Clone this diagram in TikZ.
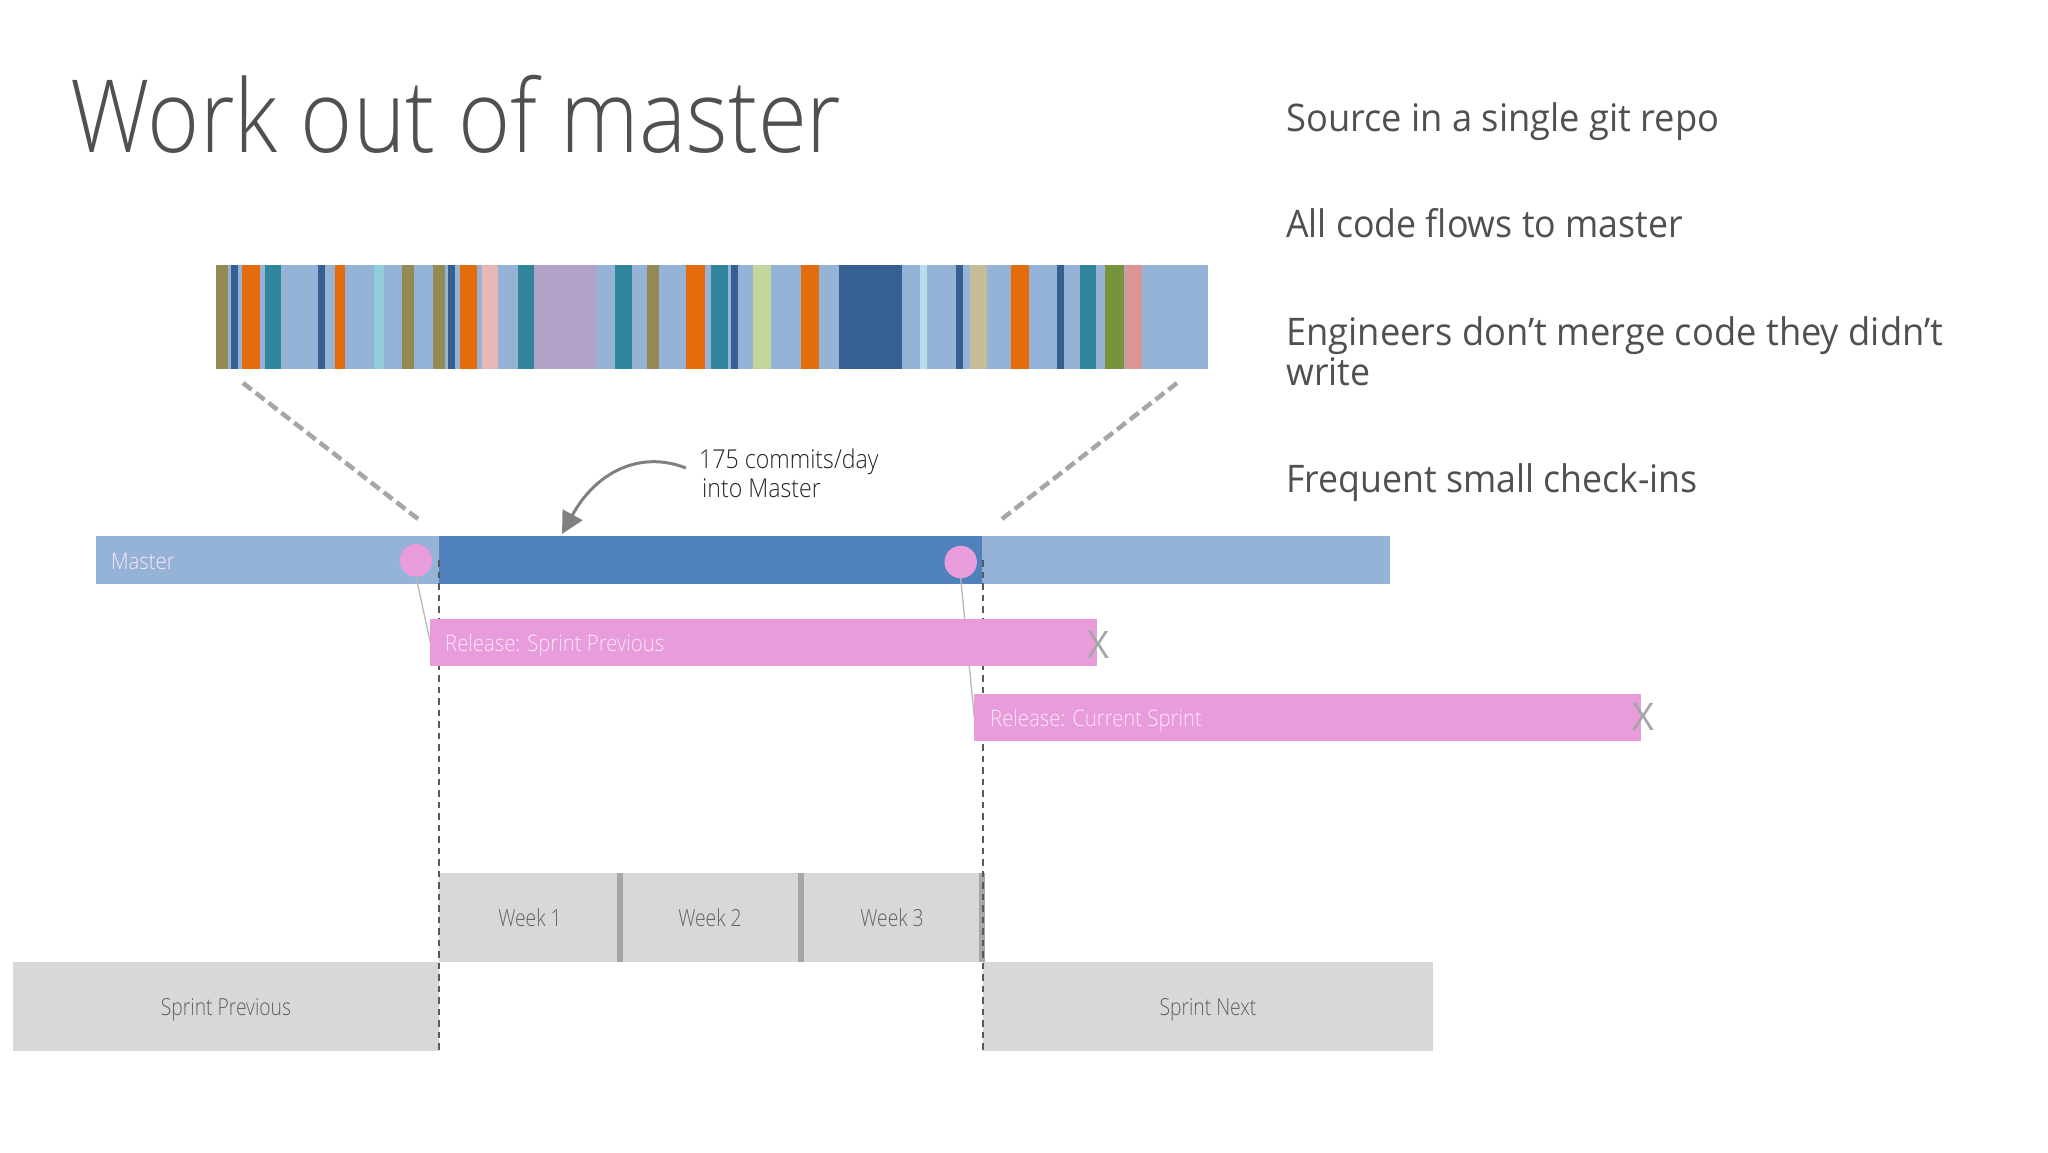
\documentclass[tikz,border=0pt]{standalone}
\usepackage{fontspec}
\usetikzlibrary{arrows.meta}
\setmainfont[FakeStretch=0.955]{Open Sans}
\newfontfamily\tightfont[FakeStretch=0.94]{Open Sans}
\newfontfamily\crossfont{Open Sans}
\newfontfamily\titlefont[FakeStretch=0.882]{Open Sans Light}
\newfontfamily\lightfont[FakeStretch=0.89]{Open Sans Light}
\newfontfamily\boxfont[FakeStretch=0.82]{Open Sans Light}
\definecolor{cBase}{HTML}{95B3D7}
\definecolor{cDark}{HTML}{4F81BD}
\definecolor{cPink}{HTML}{E99CDC}
\definecolor{cOlive}{HTML}{948A54}
\definecolor{cNavy}{HTML}{366092}
\definecolor{cOrange}{HTML}{E46C0A}
\definecolor{cTeal}{HTML}{31859C}
\definecolor{cSky}{HTML}{92CDDC}
\definecolor{cBlush}{HTML}{E6B9B8}
\definecolor{cPurple}{HTML}{B3A2C7}
\definecolor{cLime}{HTML}{C3D69B}
\definecolor{cPale}{HTML}{B7DEE8}
\definecolor{cTan}{HTML}{C4BD97}
\definecolor{cGreen}{HTML}{77933C}
\definecolor{cRose}{HTML}{D99694}
\definecolor{cGrey}{HTML}{D9D7DA}
\definecolor{cSep}{HTML}{A6A6A6}
\definecolor{cText}{HTML}{505050}
\definecolor{cSoft}{HTML}{FBE6F7}
\tikzset{
  flat/.style={inner sep=0pt,outer sep=0pt,anchor=north west,draw=none},
  masterbar/.style={flat,fill=cBase,minimum height=47.5pt},
  activebar/.style={flat,fill=cDark,minimum height=47.5pt},
  releasebar/.style={flat,fill=cPink,minimum height=47pt},
  weekbox/.style={flat,fill=cGrey,minimum height=89pt},
  sprintbox/.style={flat,fill=cGrey,minimum height=89pt},
  sepbar/.style={flat,fill=cSep,minimum width=6pt,minimum height=89pt},
  pin/.style={circle,fill=cPink,minimum size=32.5pt,inner sep=0pt,outer sep=0pt},
  pinline/.style={draw=cGrey!85!black,line width=1.3pt},
  guide/.style={draw=cSep,line width=4.5pt,dash pattern=on 11pt off 5.2pt},
  bound/.style={draw=black!65,line width=1.8pt,dash pattern=on 6.5pt off 5pt},
  bigtext/.style={inner sep=0pt,anchor=base west,text=cText,font=\fontsize{38}{38}\selectfont},
  smalllabel/.style={inner sep=0pt,anchor=base west,text=cSoft,font=\lightfont\fontsize{22.8}{22.8}\selectfont},
  boxlabel/.style={inner sep=0pt,anchor=base,text=black!62,font=\boxfont\fontsize{23.5}{23.5}\selectfont},
  cross/.style={inner sep=0pt,text=cSep,font=\crossfont\fontsize{38}{38}\selectfont},
  note/.style={inner sep=0pt,anchor=base west,text=black!85,font=\lightfont\fontsize{26}{26}\selectfont},
}
\begin{document}
\begin{tikzpicture}[x=1pt,y=-1pt]
\useasboundingbox (0,0) rectangle (2048,1152);
\fill[white] (0,0) rectangle (2048,1152);

\node[inner sep=0pt,anchor=base west,text=cText,font=\titlefont\fontsize{101}{101}\selectfont] (title) at (70,152) {Work out of master};

\node[bigtext] (b1) at (1286,131) {Source in a single git repo};
\node[bigtext] (b2) at (1286,237) {\tightfont All code flows to master};
\node[bigtext] (b3) at (1286,345) {Engineers don’t merge code they didn’t};
\node[bigtext] (b3b) at (1286,385) {\tightfont write};
\node[bigtext] (b4) at (1286,492) {\tightfont Frequent small check-ins};

% commit strip
\node[flat,fill=cBase,minimum width=992pt,minimum height=104pt] (strip) at (216,265) {};
\foreach \a/\b/\c in {
  216/228.3/cOlive,230.7/238/cNavy,242.3/260.3/cOrange,264.7/281.3/cTeal,
  318.3/325.3/cNavy,335/344.7/cOrange,374/384.3/cSky,402/414/cOlive,
  433.3/445.3/cOlive,448/455.3/cNavy,460/477.3/cOrange,482/498.3/cBlush,
  517.7/534/cTeal,534/597.3/cPurple,615.3/632/cTeal,647/659.3/cOlive,
  686.3/705/cOrange,711/727.7/cTeal,730.7/737.7/cNavy,753/771/cLime,
  801.3/819.3/cOrange,838.7/902/cNavy,920/926.7/cPale,956/963/cNavy,
  970.3/986.7/cTan,1011.3/1029.3/cOrange,1057/1063.7/cNavy,1079.7/1096.3/cTeal,
  1105.3/1123.7/cGreen,1125.3/1141.7/cRose}
  \fill[\c] (\a,265) rectangle (\b,369);

% zoom guides
\coordinate (gl1) at (243,383);
\coordinate (gl2) at (422,522);
\coordinate (gr1) at (1177,383);
\coordinate (gr2) at (998,522);
\draw[guide] (gl1) -- (gl2);
\draw[guide] (gr1) -- (gr2);

% note and arrow
\node[note] (n1) at (699,468) {175 commits/day};
\node[note] (n2) at (702,497) {into Master};
\coordinate (arrowstart) at (686,468);
\coordinate (arrowend) at (562,534);
\draw[draw=black!50,line width=3pt,-{Triangle[length=22pt,width=22pt]}]
  (arrowstart) .. controls (640,450) and (596,472) .. (arrowend);

% master
\node[masterbar,minimum width=343pt] (mL) at (96,536) {};
\node[activebar,minimum width=543pt] (mM) at (439,536) {};
\node[masterbar,minimum width=408pt] (mR) at (982,536) {};

% weeks and sprints
\node[weekbox,minimum width=181pt] (w1) at (439,873) {};
\node[weekbox,minimum width=181pt] (w2) at (620,873) {};
\node[weekbox,minimum width=181pt] (w3) at (801,873) {};
\node[sepbar] (s1) at (617,873) {};
\node[sepbar] (s2) at (798,873) {};
\node[sepbar] (s3) at (979,873) {};
\node[sprintbox,minimum width=426pt] (sp) at (13,962) {};
\node[sprintbox,minimum width=450pt] (sn) at (983,962) {};

% boundaries
\coordinate (t1) at (439,560);
\coordinate (e1) at (439,1051);
\coordinate (t2) at (983,560);
\coordinate (e2) at (983,1051);
\draw[bound] (t1) -- (e1);
\draw[bound] (t2) -- (e2);

% pins and releases
\node[pin] (c1) at (416,560.3) {};
\node[pin] (c2) at (960.7,562) {};
\node[flat,minimum width=667pt,minimum height=47pt] (r1) at (430.3,619) {};
\node[flat,minimum width=667pt,minimum height=47pt] (r2) at (974.3,694) {};
\draw[pinline] (c1.south) -- (r1.west);
\draw[pinline] (c2.south) -- (r2.west);
\node[releasebar,minimum width=667pt] (r1f) at (430.3,619) {};
\node[releasebar,minimum width=667pt] (r2f) at (974.3,694) {};

\node[smalllabel] (lm) at (111,569) {Master};
\node[smalllabel] (l1) at (445,651) {Release: Sprint Previous};
\node[smalllabel] (l2) at (990,726) {Release: Current Sprint};
\node[cross] (x1) at (1098,645) {X};
\node[cross] (x2) at (1643,717) {X};

\node[boxlabel] (tw1) at (530,926) {Week 1};
\node[boxlabel] (tw2) at (710,926) {Week 2};
\node[boxlabel] (tw3) at (892,926) {Week 3};
\node[boxlabel] (tsp) at (226,1015) {Sprint Previous};
\node[boxlabel] (tsn) at (1208,1015) {Sprint Next};
\end{tikzpicture}
\end{document}
